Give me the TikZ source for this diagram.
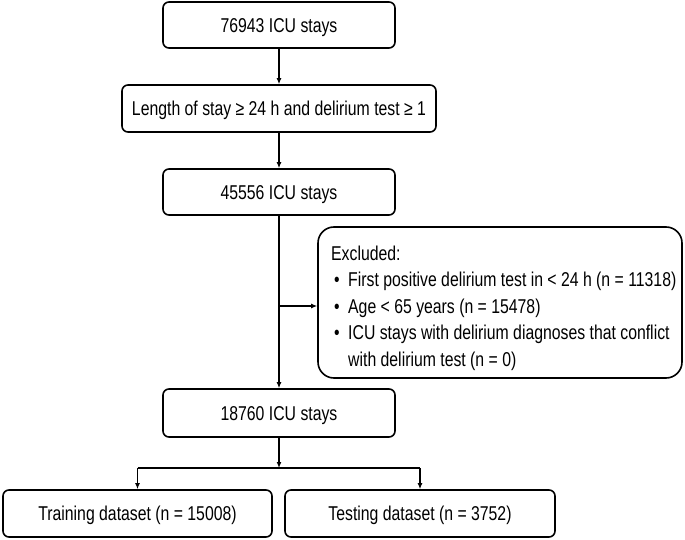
\documentclass[tikz,border=0pt]{standalone}
\usepackage{fontspec}
\setmainfont[FakeStretch=0.79]{Liberation Sans}
\usetikzlibrary{arrows.meta}
\begin{document}
\begin{tikzpicture}[x=1pt,y=1pt,
  box/.style={draw, line width=1.6pt, rounded corners=6pt, inner sep=0pt,
    text height=14.3pt, text depth=0pt, font=\fontsize{20}{24}\selectfont},
  exbox/.style={draw, line width=1.6pt, rounded corners=16pt, inner sep=0pt,
    minimum width=364pt, minimum height=151pt},
  arr/.style={line width=1.3pt, -{Latex[length=6pt,width=5pt]}},
  ln/.style={line width=1.3pt}]
\useasboundingbox (0,0) rectangle (685,-540);
\node[box, minimum width=232pt, minimum height=46pt] (b1) at (279,-25) {76943 ICU stays};
\node[box, minimum width=314pt, minimum height=47pt] (b2) at (279,-108.5) {Length of stay ≥ 24 h and delirium test ≥ 1\hspace{7pt}};
\node[box, minimum width=232pt, minimum height=46pt] (b3) at (279,-192) {45556 ICU stays};
\node[exbox] (ex) at (500,-302.5) {};
\node[anchor=north west, inner sep=0pt, font=\fontsize{20}{26.5}\selectfont] (exTxt) at (331,-241.5) {%
  \begin{tabular}{@{}p{17pt}@{}l@{}}
  \multicolumn{2}{@{}l@{}}{Excluded:}\\
  \hspace{3pt}\textbullet & First positive delirium test in < 24 h (n = 11318)\\
  \hspace{3pt}\textbullet & Age < 65 years (n = 15478)\\
  \hspace{3pt}\textbullet & ICU stays with delirium diagnoses that conflict\\
   & with delirium test (n = 0)
  \end{tabular}};
\node[box, minimum width=232pt, minimum height=48pt] (b4) at (279,-413) {18760 ICU stays};
\node[box, minimum width=269pt, minimum height=47pt] (tr) at (137.5,-513.5) {Training dataset (n = 15008)};
\node[box, minimum width=270pt, minimum height=47pt] (te) at (420,-513.5) {Testing dataset (n = 3752)};
\coordinate (jn) at (279,-306);
\coordinate (br) at (279,-468);
\coordinate (brL) at (137.5,-468);
\coordinate (brR) at (420,-468);
\draw[arr] (b1) -- (b2);
\draw[arr] (b2) -- (b3);
\draw[arr] (b3) -- (b4);
\draw[arr] (jn) -- (jn -| ex.west);
\draw[arr] (b4) -- (br);
\draw[ln] (brL) -- (brR);
\draw[arr] (brL) -- (tr);
\draw[arr] (brR) -- (te);
\end{tikzpicture}
\end{document}
